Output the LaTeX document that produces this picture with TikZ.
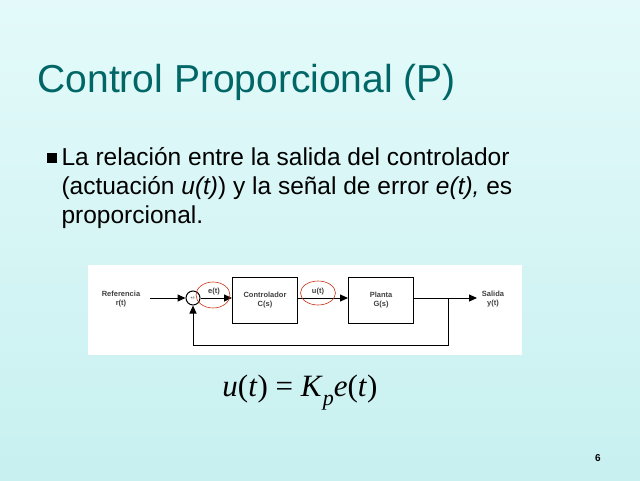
\documentclass[tikz,border=0pt]{standalone}
\usepackage{fontspec}
\setmainfont{Liberation Sans}
\newfontfamily\serifq{Liberation Serif}
\usetikzlibrary{arrows.meta,shapes.geometric}
\definecolor{teal1}{RGB}{0,102,102}
\definecolor{ellred}{RGB}{200,50,20}
\begin{document}
\begin{tikzpicture}[x=1pt,y=-1pt,
  blk/.style={draw,line width=1pt,minimum width=65pt,minimum height=46pt,font=\bfseries\fontsize{7.5}{9}\selectfont,align=center,inner sep=0pt,text=black!75},
  sig/.style={line width=1pt,-{Triangle[length=8pt,width=7pt]}},
  lab/.style={font=\bfseries\fontsize{7.5}{9}\selectfont,align=center,text=black!75},
  ring/.style={draw=ellred,line width=0.6pt,ellipse}]
\useasboundingbox (0,0) rectangle (640,480);
\shade[top color={rgb,255:red,228;green,250;blue,250},bottom color={rgb,255:red,200;green,240;blue,240}] (0,0) rectangle (640,480);
\node[anchor=west,text=teal1,font=\fontsize{39}{42}\selectfont] (title) at (34,82) {Control Proporcional (P)};
\node[fill=black,minimum size=10pt,inner sep=0pt] (bul) at (52,158) {};
\node[anchor=north west,align=left,font=\fontsize{24.5}{29}\selectfont] (body) at (58,144)
 {La relación entre la salida del controlador\\(actuación \textit{u(t)}) y la señal de error \textit{e(t),} es\\proporcional.};
\fill[white] (88,265) rectangle (522,355);
\node[lab] (ref) at (121,299) {Referencia\\r(t)};
\node[draw,circle,line width=1pt,minimum size=14pt,inner sep=0pt,font=\fontsize{4}{4}\selectfont] (sum) at (193,298) {+/-};
\node[blk] (ctl) at (265,300) {Controlador\\C(s)};
\node[blk] (pla) at (381,300) {Planta\\G(s)};
\node[lab] (sal) at (493,299) {Salida\\y(t)};
\coordinate (inS) at (150,298);
\coordinate (outE) at (477,298);
\coordinate (br) at (448,298);
\draw[sig] (inS) -- (sum.west);
\draw[sig] (sum.east) -- (ctl.west|-sum.east);
\draw[sig] (ctl.east|-sum) -- (pla.west|-sum);
\draw[sig] (pla.east|-sum) -- (outE);
\draw[sig] (br) -- (448,345) -- (193,345) -- (sum.south);
\node[lab] (et) at (214,292) {e(t)};
\node[lab] (ut) at (318,292) {u(t)};
\node[ring,minimum width=34pt,minimum height=26pt] (r1) at (213,295) {};
\node[ring,minimum width=35pt,minimum height=24pt] (r2) at (318,293) {};
\node[font=\serifq\fontsize{31}{33}\selectfont] (eq) at (300,393) {\textit{u}(\textit{t}) = \textit{K}\raisebox{-9pt}{\textit{\fontsize{22}{22}\selectfont p}}\textit{e}(\textit{t})};
\node[font=\bfseries\fontsize{10}{12}\selectfont] (pg) at (598,458) {6};
\end{tikzpicture}
\end{document}
